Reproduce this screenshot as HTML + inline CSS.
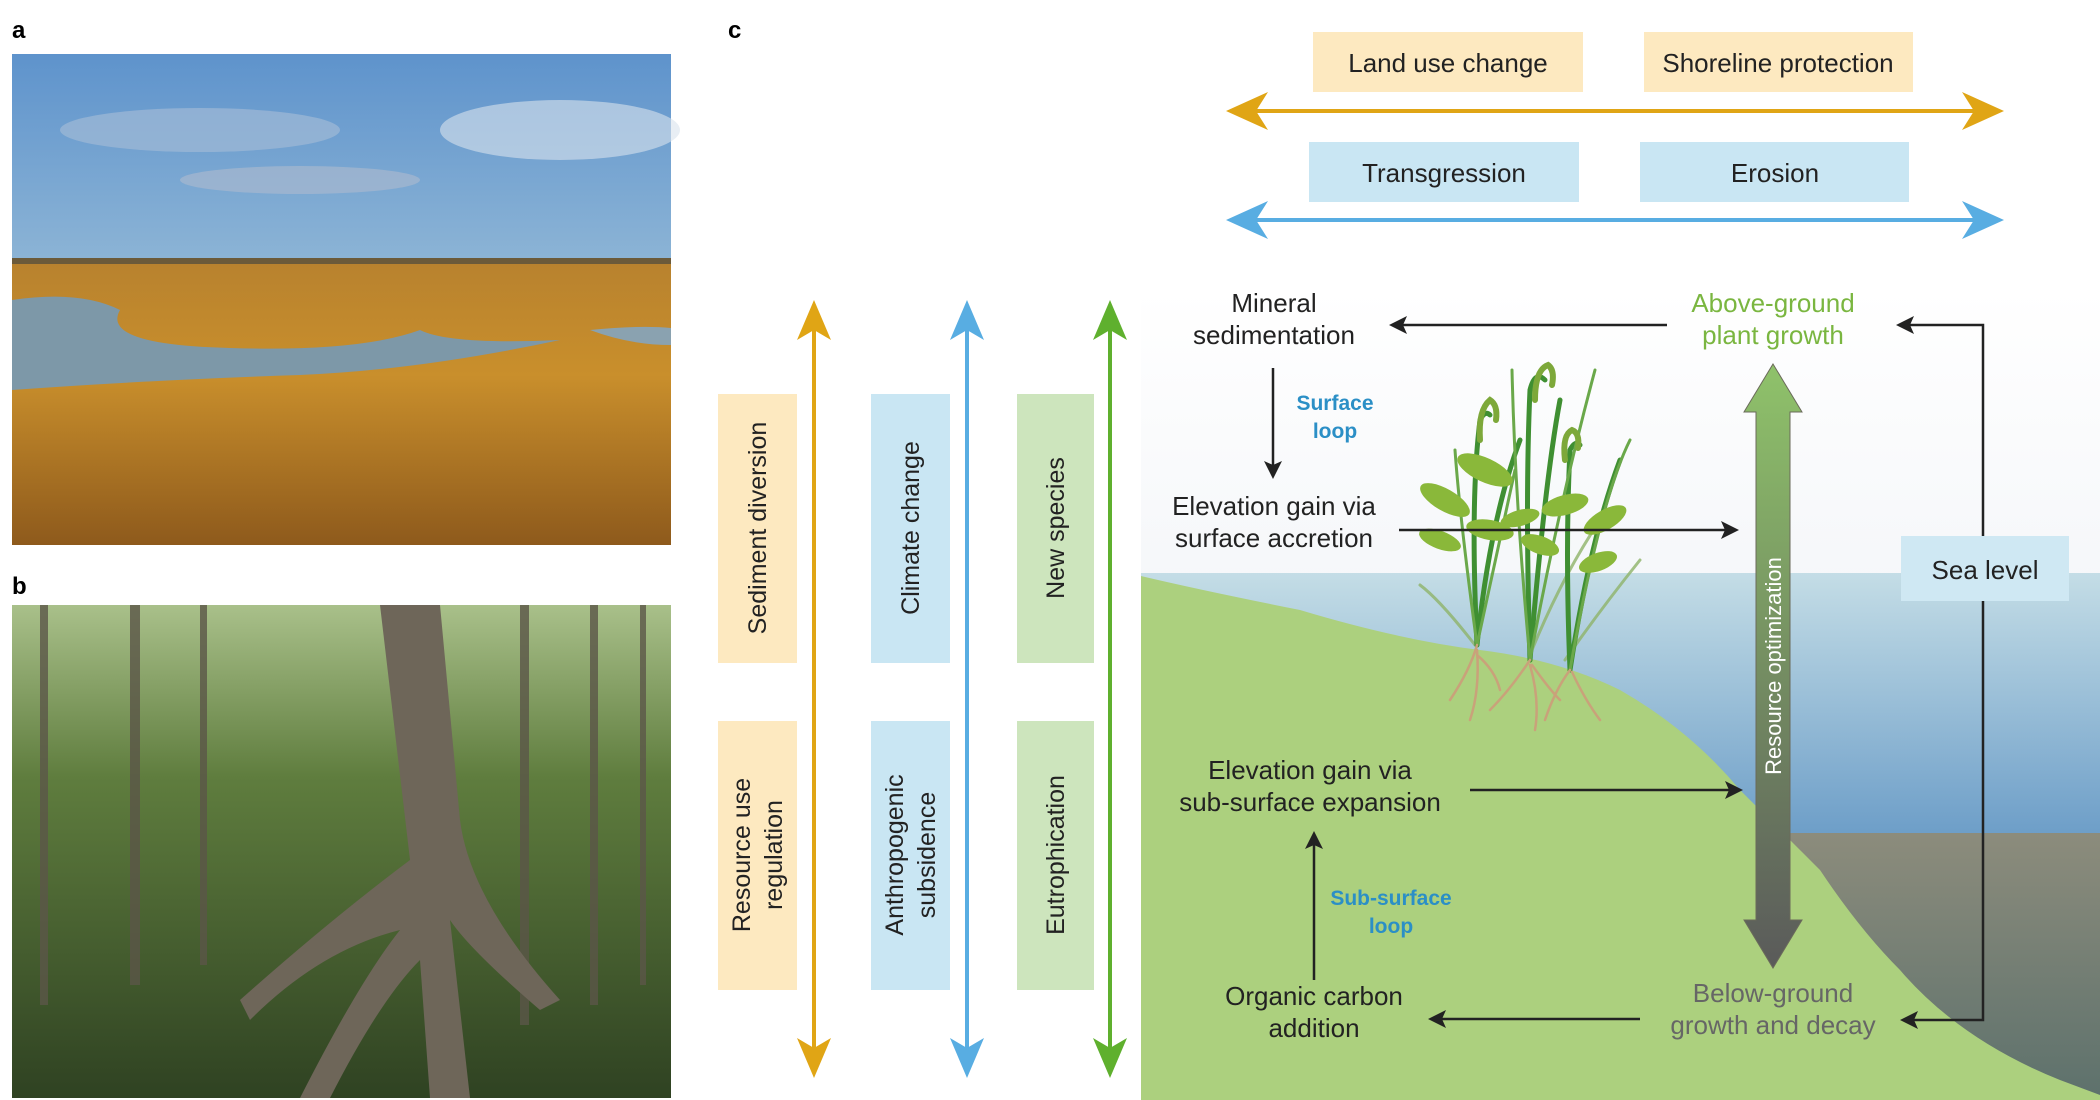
<!DOCTYPE html>
<html><head><meta charset="utf-8"><style>
html,body{margin:0;padding:0;background:#fff;}
svg{display:block;font-family:"Liberation Sans",sans-serif;}
</style></head><body>
<svg width="2100" height="1100" viewBox="0 0 2100 1100" xmlns="http://www.w3.org/2000/svg">
<defs>
<linearGradient id="sky" x1="0" y1="0" x2="0" y2="1">
<stop offset="0" stop-color="#5e93cc"/><stop offset="0.45" stop-color="#8fb6d6"/><stop offset="0.8" stop-color="#cfd4c8"/><stop offset="1" stop-color="#e2c9a0"/></linearGradient>
<linearGradient id="marsh" x1="0" y1="0" x2="0" y2="1">
<stop offset="0" stop-color="#b8822e"/><stop offset="0.4" stop-color="#c98f2c"/><stop offset="1" stop-color="#8e5a1c"/></linearGradient>
<linearGradient id="forest" x1="0" y1="0" x2="0" y2="1">
<stop offset="0" stop-color="#a9c08a"/><stop offset="0.35" stop-color="#5f7d3e"/><stop offset="1" stop-color="#2f4222"/></linearGradient>
<linearGradient id="bgc" x1="0" y1="0" x2="0" y2="1">
<stop offset="0" stop-color="#ffffff"/><stop offset="1" stop-color="#e4e9f0"/></linearGradient>
<linearGradient id="water" x1="0" y1="0" x2="0" y2="1">
<stop offset="0" stop-color="#c4dde6"/><stop offset="1" stop-color="#6d9ec8"/></linearGradient>
<linearGradient id="seabed" x1="0" y1="0" x2="0" y2="1">
<stop offset="0" stop-color="#8c8c7c"/><stop offset="1" stop-color="#5d716c"/></linearGradient>
<linearGradient id="ro" x1="0" y1="0" x2="0" y2="1">
<stop offset="0" stop-color="#8fc26a"/><stop offset="1" stop-color="#5a5a5a"/></linearGradient>
</defs>

<text x="12" y="38" font-size="24" font-weight="bold">a</text>
<text x="12" y="594" font-size="24" font-weight="bold">b</text>
<text x="728" y="38" font-size="24" font-weight="bold">c</text>

<rect x="12" y="54" width="659" height="491" fill="url(#sky)"/>
<ellipse cx="200" cy="130" rx="140" ry="22" fill="#9fb9d6" opacity="0.7"/>
<ellipse cx="560" cy="130" rx="120" ry="30" fill="#d9e2ec" opacity="0.6"/>
<ellipse cx="300" cy="180" rx="120" ry="14" fill="#a7b8cf" opacity="0.7"/>
<rect x="12" y="262" width="659" height="283" fill="url(#marsh)"/>
<rect x="12" y="258" width="659" height="6" fill="#6b5a3a"/>
<path d="M12 300 Q80 290 120 310 Q100 345 230 348 Q360 352 420 330 Q450 345 560 340 Q420 370 300 375 Q150 380 12 390 Z" fill="#7d98a8"/>
<path d="M590 330 Q640 325 671 328 L671 345 Q630 345 590 330Z" fill="#8aa2b0"/>

<rect x="12" y="605" width="659" height="493" fill="url(#forest)"/>
<g fill="#5b5648" opacity="0.8">
<rect x="40" y="605" width="8" height="400"/><rect x="130" y="605" width="10" height="380"/>
<rect x="200" y="605" width="7" height="360"/><rect x="520" y="605" width="9" height="420"/>
<rect x="590" y="605" width="8" height="400"/><rect x="640" y="605" width="6" height="380"/>
</g>
<path d="M380 605 L440 605 L460 820 Q470 900 560 1000 L540 1010 Q470 950 450 920 L470 1098 L430 1098 L420 960 Q380 1000 330 1098 L300 1098 Q360 980 400 930 Q320 950 250 1020 L240 1000 Q330 920 410 860 Z" fill="#6e6659"/>

<rect x="1141" y="290" width="959" height="810" fill="url(#bgc)"/>
<rect x="1141" y="573" width="959" height="262" fill="url(#water)"/>
<rect x="1760" y="833" width="340" height="267" fill="url(#seabed)"/>
<path d="M1141 576 Q1200 590 1300 610 Q1400 640 1480 650 Q1560 660 1620 690 Q1690 730 1740 790 Q1790 840 1820 870 Q1860 930 1900 970 Q1960 1040 2060 1080 L2100 1095 L2100 1100 L1141 1100 Z" fill="#acd07e"/>

<g stroke-linecap="round" fill="none">
<g stroke="#8fb46a" stroke-width="3" opacity="0.8">
<path d="M1475 645 Q1440 600 1420 585"/><path d="M1530 655 Q1560 580 1600 520"/><path d="M1565 660 Q1600 610 1640 560"/>
</g>
<g stroke="#3f8f32" stroke-width="5">
<path d="M1477 645 Q1470 500 1480 420 Q1485 410 1490 415"/><path d="M1477 645 Q1490 520 1520 440"/>
<path d="M1530 660 Q1525 500 1530 390 Q1535 370 1545 380"/><path d="M1530 660 Q1545 480 1560 400"/>
<path d="M1570 670 Q1565 550 1570 450 Q1575 440 1580 445"/><path d="M1570 670 Q1590 540 1620 460"/>
</g>
<g stroke="#6aa84a" stroke-width="3">
<path d="M1477 645 Q1460 520 1455 450"/><path d="M1530 660 Q1515 500 1512 370"/><path d="M1570 670 Q1600 500 1630 440"/>
<path d="M1530 660 Q1560 500 1595 370"/><path d="M1477 645 Q1500 540 1515 470"/>
</g>
<g stroke="#c9a27a" stroke-width="2.5">
<path d="M1477 645 Q1470 670 1450 700 M1477 650 Q1480 690 1470 720 M1477 655 Q1495 670 1500 690"/>
<path d="M1530 660 Q1510 690 1490 710 M1530 665 Q1540 700 1535 730 M1532 665 Q1550 690 1560 700"/>
<path d="M1570 670 Q1555 690 1545 720 M1572 672 Q1585 700 1600 720"/>
</g>
</g>
<g fill="#8ab83a">
<ellipse cx="1445" cy="500" rx="28" ry="11" transform="rotate(30 1445 500)"/>
<ellipse cx="1485" cy="470" rx="30" ry="12" transform="rotate(25 1485 470)"/>
<ellipse cx="1440" cy="540" rx="22" ry="9" transform="rotate(20 1440 540)"/>
<ellipse cx="1490" cy="530" rx="24" ry="10" transform="rotate(10 1490 530)"/>
<ellipse cx="1520" cy="518" rx="20" ry="8" transform="rotate(-15 1520 518)"/>
<ellipse cx="1565" cy="505" rx="24" ry="10" transform="rotate(-15 1565 505)"/>
<ellipse cx="1540" cy="545" rx="20" ry="9" transform="rotate(20 1540 545)"/>
<ellipse cx="1605" cy="520" rx="24" ry="10" transform="rotate(-30 1605 520)"/>
<ellipse cx="1598" cy="562" rx="20" ry="9" transform="rotate(-20 1598 562)"/>
</g>
<g stroke="#7da83a" stroke-width="6" fill="none" stroke-linecap="round">
<path d="M1480 440 Q1478 410 1490 400 Q1498 405 1496 420"/>
<path d="M1535 400 Q1535 370 1548 365 Q1555 370 1552 385"/>
<path d="M1565 460 Q1562 435 1572 430 Q1580 433 1578 448"/>
</g>

<rect x="1313" y="32" width="270" height="60" fill="#fde9c0"/>
<rect x="1644" y="32" width="269" height="60" fill="#fde9c0"/>
<rect x="1309" y="142" width="270" height="60" fill="#c9e6f3"/>
<rect x="1640" y="142" width="269" height="60" fill="#c9e6f3"/>
<g font-size="26" fill="#222" text-anchor="middle">
<text x="1448" y="72">Land use change</text>
<text x="1778" y="72">Shoreline protection</text>
<text x="1444" y="182">Transgression</text>
<text x="1775" y="182">Erosion</text>
</g>

<g>
<rect x="1250" y="109" width="730" height="4" fill="#e0a515"/>
<path d="M1226 111 L1268 92 L1256 111 L1268 130Z" fill="#e0a515"/>
<path d="M2004 111 L1962 92 L1974 111 L1962 130Z" fill="#e0a515"/>
<rect x="1250" y="218" width="730" height="4" fill="#58ade2"/>
<path d="M1226 220 L1268 201 L1256 220 L1268 239Z" fill="#58ade2"/>
<path d="M2004 220 L1962 201 L1974 220 L1962 239Z" fill="#58ade2"/>
</g>

<rect x="718" y="394" width="79" height="269" fill="#fde9c0"/>
<rect x="718" y="721" width="79" height="269" fill="#fde9c0"/>
<rect x="871" y="394" width="79" height="269" fill="#c9e6f3"/>
<rect x="871" y="721" width="79" height="269" fill="#c9e6f3"/>
<rect x="1017" y="394" width="77" height="269" fill="#cde5bd"/>
<rect x="1017" y="721" width="77" height="269" fill="#cde5bd"/>
<g font-size="25" fill="#222" text-anchor="middle">
<text transform="translate(766 528) rotate(-90)">Sediment diversion</text>
<text transform="translate(750 855) rotate(-90)">Resource use</text>
<text transform="translate(782 855) rotate(-90)">regulation</text>
<text transform="translate(919 528) rotate(-90)">Climate change</text>
<text transform="translate(903 855) rotate(-90)">Anthropogenic</text>
<text transform="translate(935 855) rotate(-90)">subsidence</text>
<text transform="translate(1064 528) rotate(-90)">New species</text>
<text transform="translate(1064 855) rotate(-90)">Eutrophication</text>
</g>

<rect x="812" y="320" width="4" height="740" fill="#e0a515"/>
<path d="M814 300 L797 340 L814 330 L831 340Z" fill="#e0a515"/>
<path d="M814 1078 L797 1038 L814 1048 L831 1038Z" fill="#e0a515"/>
<rect x="965" y="320" width="4" height="740" fill="#58ade2"/>
<path d="M967 300 L950 340 L967 330 L984 340Z" fill="#58ade2"/>
<path d="M967 1078 L950 1038 L967 1048 L984 1038Z" fill="#58ade2"/>
<rect x="1108" y="320" width="4" height="740" fill="#5fb02e"/>
<path d="M1110 300 L1093 340 L1110 330 L1127 340Z" fill="#5fb02e"/>
<path d="M1110 1078 L1093 1038 L1110 1048 L1127 1038Z" fill="#5fb02e"/>

<path d="M1773 364 L1802 412 L1790 412 L1790 920 L1802 920 L1773 968 L1744 920 L1756 920 L1756 412 L1744 412Z" fill="url(#ro)" stroke="#6a6a5a" stroke-width="1"/>
<text transform="translate(1781 666) rotate(-90)" font-size="22" fill="#fff" text-anchor="middle">Resource optimization</text>

<polyline points="1900,325 1983,325 1983,1020 1904,1020" fill="none" stroke="#222" stroke-width="2.5"/>
<path d="M1896 325 L1914 316 L1910 325 L1914 334Z" fill="#222"/>
<path d="M1900 1020 L1918 1011 L1914 1020 L1918 1029Z" fill="#222"/>
<rect x="1901" y="536" width="168" height="65" fill="#cfe8f3"/>
<text x="1985" y="579" font-size="26" fill="#222" text-anchor="middle">Sea level</text>

<g stroke="#222" stroke-width="2.5" fill="none">
<line x1="1667" y1="325" x2="1395" y2="325"/>
<line x1="1273" y1="368" x2="1273" y2="472"/>
<line x1="1399" y1="530" x2="1732" y2="530"/>
<line x1="1470" y1="790" x2="1736" y2="790"/>
<line x1="1314" y1="980" x2="1314" y2="838"/>
<line x1="1640" y1="1019" x2="1434" y2="1019"/>
</g>
<g fill="#222">
<path d="M1389 325 L1407 316 L1403 325 L1407 334Z"/>
<path d="M1273 479 L1264 461 L1273 465 L1282 461Z"/>
<path d="M1739 530 L1721 521 L1725 530 L1721 539Z"/>
<path d="M1743 790 L1725 781 L1729 790 L1725 799Z"/>
<path d="M1314 831 L1305 849 L1314 845 L1323 849Z"/>
<path d="M1428 1019 L1446 1010 L1442 1019 L1446 1028Z"/>
</g>

<g font-size="26" text-anchor="middle" fill="#222">
<text x="1274" y="312">Mineral</text>
<text x="1274" y="344">sedimentation</text>
<text x="1274" y="515">Elevation gain via</text>
<text x="1274" y="547">surface accretion</text>
<text x="1310" y="779">Elevation gain via</text>
<text x="1310" y="811">sub-surface expansion</text>
<text x="1314" y="1005">Organic carbon</text>
<text x="1314" y="1037">addition</text>
</g>
<g font-size="26" text-anchor="middle" fill="#7ab640">
<text x="1773" y="312">Above-ground</text>
<text x="1773" y="344">plant growth</text>
</g>
<g font-size="26" text-anchor="middle" fill="#666">
<text x="1773" y="1002">Below-ground</text>
<text x="1773" y="1034">growth and decay</text>
</g>
<g font-size="21" font-weight="bold" text-anchor="middle" fill="#2b8fc6">
<text x="1335" y="410">Surface</text>
<text x="1335" y="438">loop</text>
<text x="1391" y="905">Sub-surface</text>
<text x="1391" y="933">loop</text>
</g>
</svg>
</body></html>
